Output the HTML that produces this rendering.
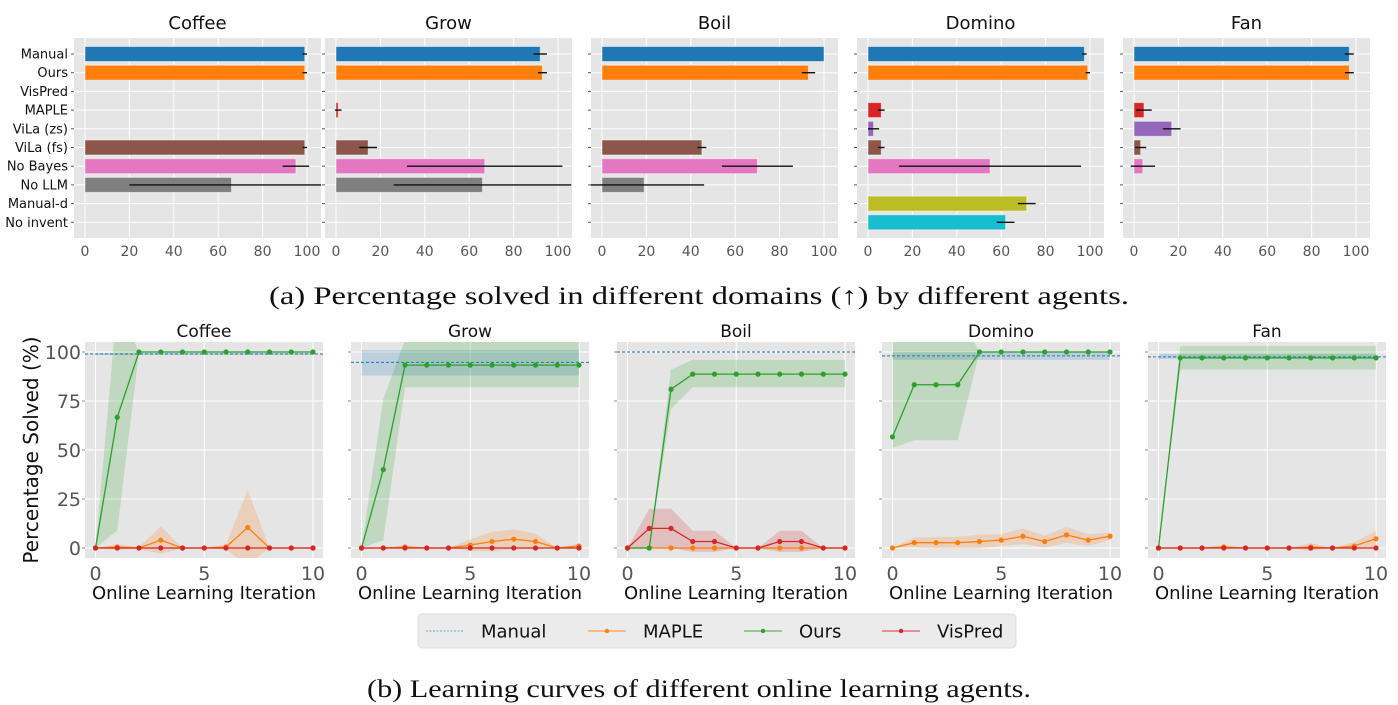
<!DOCTYPE html>
<html><head><meta charset="utf-8"><style>
html,body{margin:0;padding:0;background:#fff;}
svg{display:block;font-family:"DejaVu Sans","Liberation Sans",sans-serif;}
</style></head><body>
<svg id="chart" width="1398" height="705" viewBox="0 0 1398 705" xmlns="http://www.w3.org/2000/svg"></svg>
<script>
// ---------- Bar chart data (top row) ----------
const barDomains = ["Coffee","Grow","Boil","Domino","Fan"];
const barAgents = ["Manual","Ours","VisPred","MAPLE","ViLa (zs)","ViLa (fs)","No Bayes","No LLM","Manual-d","No invent"];
const barColors = ["#1f77b4","#ff7f0e","#2ca02c","#d62728","#9467bd","#8c564b","#e377c2","#7f7f7f","#bcbd22","#17becf"];
const barCoffee = [99,99,0,0,0,99,95,66,0,0];
const errCoffee = [1,1,0,0,0,1,6,46,0,0];
const barGrow = [92,93,0,1,0,14.5,67,66,0,0];
const errGrow = [3,2,0,1.5,0,4,35,40,0,0];
const barBoil = [100,93,0,0,0,45,70,19,0,0];
const errBoil = [0,3,0,0,0,2,16,27,0,0];
const barDomino = [97.5,99,0,6,2.5,6,55,0,71.5,62];
const errDomino = [1,1,0,1.5,2.5,1.5,41,0,4,4];
const barFan = [97,97,0,4.5,17,3,4,0,0,0];
const errFan = [2,2,0,3.5,4,2.5,5.5,0,0,0];
const barTicks = [0,20,40,60,80,100];

// ---------- Line chart data (bottom row) ----------
const iters = [0,1,2,3,4,5,6,7,8,9,10];
const lineTicksX = [0,5,10];
const lineTicksY = [0,25,50,75,100];
const coffeeOurs = [0,66.7,100,100,100,100,100,100,100,100,100];
const coffeeOursLo = [0,9,100,100,100,100,100,100,100,100,100];
const coffeeOursHi = [0,124,100,100,100,100,100,100,100,100,100];
const coffeeMaple = [0,0.5,0,4,0,0,0.5,10.5,0,0,0];
const coffeeMapleErr = [0,1.5,0.5,7,0,0,1.5,19,0,0,0];
const coffeeVis = [0,0,0,0,0,0,0,0,0,0,0];
const coffeeVisErr = [0,0,0,0,0,0,0,0,0,0,0];
const coffeeManual = [99,98.5,99.5];
const growOurs = [0,40,93.3,93.3,93.3,93.3,93.3,93.3,93.3,93.3,93.3];
const growOursLo = [0,4,82,82,82,82,82,82,82,82,82];
const growOursHi = [0,76,106,106,106,106,106,106,106,106,106];
const growMaple = [0,0,0.5,0,0,1.5,3.3,4.5,3.3,0,1];
const growMapleErr = [0,0,1,0,0,3,5,5,4,0,1.5];
const growVis = [0,0,0,0,0,0,0,0,0,0,0];
const growVisErr = [0,0,0,0,0,0,0,0,0,0,0];
const growManual = [94.7,88,101];
const boilOurs = [0,0,81,88.7,88.7,88.7,88.7,88.7,88.7,88.7,88.7];
const boilOursLo = [0,0,71,82,82,82,82,82,82,82,82];
const boilOursHi = [0,0,91,96,96,96,96,96,96,96,96];
const boilMaple = [0,0,0,0,0,0,0,0,0,0,0];
const boilMapleErr = [0,0,0,0,0,0,0,0,0,0,0];
const boilVis = [0,10,10,3.3,3.3,0,0,3.3,3.3,0,0];
const boilVisErr = [0,10,10,5.5,5.5,0,0,5.5,5.5,0,0];
const boilManual = [100,100,100];
const dominoOurs = [56.7,83.3,83.3,83.3,100,100,100,100,100,100,100];
const dominoOursLo = [51,55,55,55,100,100,100,100,100,100,100];
const dominoOursHi = [120,120,120,120,100,100,100,100,100,100,100];
const dominoMaple = [0,2.7,2.7,2.7,3.3,4,6,3.3,6.7,4,6];
const dominoMapleErr = [0,2.5,3,3,3.5,3,4,3,4,3,2];
const dominoVis = [];
const dominoVisErr = [];
const dominoManual = [98,96,100];
const fanOurs = [0,97,97,97,97,97,97,97,97,97,97];
const fanOursLo = [0,91,91,91,91,91,91,91,91,91,91];
const fanOursHi = [0,103,103,103,103,103,103,103,103,103,103];
const fanMaple = [0,0,0,0.5,0,0,0,0.5,0,1,4.7];
const fanMapleErr = [0,0,0,1,0,0,0,2,0,2,4];
const fanVis = [0,0,0,0,0,0,0,0,0,0,0];
const fanVisErr = [0,0,0,0,0,0,0,0,0,0,0];
const fanManual = [97.5,96.5,99];

const svg = document.getElementById('chart');
const NS = 'http://www.w3.org/2000/svg';
function mk(tag, attrs, parent){
  const e = document.createElementNS(NS, tag);
  for (const k in attrs) e.setAttribute(k, attrs[k]);
  (parent||svg).appendChild(e);
  return e;
}

// ================= TOP BAR CHARTS =================
const barSets = [[barCoffee,errCoffee],[barGrow,errGrow],[barBoil,errBoil],[barDomino,errDomino],[barFan,errFan]];
const barPanelLeft = [74, 325, 591, 857, 1123];
const barTop = 38, barBottom = 238;
barDomains.forEach((dom, d) => {
  const L = barPanelLeft[d], W = 247;
  const x0 = L + 11;
  const sx = v => x0 + v * 2.22;
  const clipX = v => Math.min(L + W, Math.max(L, sx(v)));
  const ry = i => 54 + i * 18.7;
  const g = mk('g', {});
  
  
  const bg = mk('rect', {x:L, y:barTop, width:W, height:barBottom-barTop, fill:'#e5e5e5'}, g);
  
  
  barTicks.forEach(t => {
    const gl = mk('line', {x1:sx(t), x2:sx(t), y1:barTop, y2:barBottom, stroke:'#fff', 'stroke-width':1}, g);
    
    
    const tl = mk('text', {x:sx(t), y:256, 'text-anchor':'middle', 'font-size':14, fill:'#555'}, g);
    tl.textContent = t;
    
    
  });
  barAgents.forEach((a, i) => {
    const gl = mk('line', {x1:L, x2:L+W, y1:ry(i), y2:ry(i), stroke:'#fff', 'stroke-width':1}, g);
    
    
    mk('line', {x1:L-3, x2:L, y1:ry(i), y2:ry(i), stroke:'#555', 'stroke-width':1}, g);
    if (d === 0) {
      const lab = mk('text', {x:L-6, y:ry(i)+4.5, 'text-anchor':'end', 'font-size':13, fill:'#111'}, g);
      lab.textContent = a;
      
      
    }
  });
  const vals = barSets[d][0], errs = barSets[d][1];
  vals.forEach((v, i) => {
    if (v > 0) {
      const b = mk('rect', {x:sx(0), y:ry(i)-7.5, width:sx(v)-sx(0), height:15, fill:barColors[i], stroke:'rgba(255,255,255,0.5)', 'stroke-width':1}, g);
      
      
    }
    if (errs[i] > 0) {
      const e = mk('line', {x1:clipX(v-errs[i]), x2:clipX(v+errs[i]), y1:ry(i), y2:ry(i), stroke:'#111', 'stroke-width':1.4}, g);
      
      
    }
  });
  const title = mk('text', {x:L+W/2, y:29, 'text-anchor':'middle', 'font-size':18, fill:'#111'}, g);
  title.textContent = dom;
  
  
});
const capA = mk('text', {x:699, y:304, 'text-anchor':'middle', 'font-size':25, 'font-family':'"Liberation Serif",serif', fill:'#111', textLength:860, lengthAdjust:'spacingAndGlyphs'});
capA.textContent = '(a) Percentage solved in different domains (\u2191) by different agents.';



// ================= BOTTOM LINE CHARTS =================
const lineSets = [
  [coffeeOurs,coffeeOursLo,coffeeOursHi,coffeeMaple,coffeeMapleErr,coffeeVis,coffeeVisErr,coffeeManual],
  [growOurs,growOursLo,growOursHi,growMaple,growMapleErr,growVis,growVisErr,growManual],
  [boilOurs,boilOursLo,boilOursHi,boilMaple,boilMapleErr,boilVis,boilVisErr,boilManual],
  [dominoOurs,dominoOursLo,dominoOursHi,dominoMaple,dominoMapleErr,dominoVis,dominoVisErr,dominoManual],
  [fanOurs,fanOursLo,fanOursHi,fanMaple,fanMapleErr,fanVis,fanVisErr,fanManual]
];
const lineLeft = [85, 351, 617, 882, 1148];
const lTop = 342, lBot = 558, lW = 238;
const defs = mk('defs', {});
barDomains.forEach((dom, d) => {
  const L = lineLeft[d];
  const sx = v => L + 10.5 + v * 21.75;
  const sy = v => 548 - v * 1.96;
  const cp = mk('clipPath', {id:'clip'+d}, defs);
  mk('rect', {x:L, y:lTop, width:lW, height:lBot-lTop}, cp);
  const g = mk('g', {});
  
  
  const bg = mk('rect', {x:L, y:lTop, width:lW, height:lBot-lTop, fill:'#e5e5e5'}, g);
  
  
  lineTicksX.forEach(t => {
    mk('line', {x1:sx(t), x2:sx(t), y1:lTop, y2:lBot, stroke:'#fff', 'stroke-width':1}, g);
    const tl = mk('text', {x:sx(t), y:580, 'text-anchor':'middle', 'font-size':19, fill:'#555'}, g);
    tl.textContent = t;
    
    
  });
  lineTicksY.forEach(t => {
    mk('line', {x1:L, x2:L+lW, y1:sy(t), y2:sy(t), stroke:'#fff', 'stroke-width':1}, g);
    mk('line', {x1:L-3, x2:L, y1:sy(t), y2:sy(t), stroke:'#888', 'stroke-width':1}, g);
    if (d === 0) {
      const tl = mk('text', {x:L-4, y:sy(t)+7, 'text-anchor':'end', 'font-size':19, fill:'#555'}, g);
      tl.textContent = t;
      
      
    }
  });
  const inner = mk('g', {'clip-path':'url(#clip'+d+')'}, g);
  const S = lineSets[d];
  const band = (lo, hi, color, name) => {
    if (!lo.length) return;
    let p = lo.map((v,i)=>sx(iters[i])+','+sy(v)).join(' ');
    p += ' ' + hi.map((v,i)=>sx(iters[i])+','+sy(v)).reverse().join(' ');
    const b = mk('polygon', {points:p, fill:color, 'fill-opacity':0.2}, inner);
    
    
  };
  const series = (vals, color, name) => {
    if (!vals.length) return;
    const pl = mk('polyline', {points:vals.map((v,i)=>sx(iters[i])+','+sy(v)).join(' '), fill:'none', stroke:color, 'stroke-width':1.3}, inner);
    
    
    vals.forEach((v,i) => {
      const c = mk('circle', {cx:sx(iters[i]), cy:sy(v), r:2.6, fill:color}, inner);
      
      
    });
  };
  const man = S[7];
  const mb = mk('rect', {x:sx(0), y:sy(man[2]), width:sx(10)-sx(0), height:Math.max(0, sy(man[1])-sy(man[2])), fill:'#1f77b4', 'fill-opacity':0.2}, inner);
  
  
  const ml = mk('line', {x1:L, x2:L+lW, y1:sy(man[0]), y2:sy(man[0]), stroke:'#1f77b4', 'stroke-width':1, 'stroke-dasharray':'3,2'}, inner);
  
  
  band(S[1], S[2], '#2ca02c', 'ours-band');
  band(S[3].map((v,i)=>v-S[4][i]), S[3].map((v,i)=>v+S[4][i]), '#ff7f0e', 'maple-band');
  band(S[5].map((v,i)=>Math.max(-2,v-S[6][i])), S[5].map((v,i)=>v+S[6][i]), '#d62728', 'vispred-band');
  series(S[3], '#ff7f0e', 'maple');
  series(S[0], '#2ca02c', 'ours');
  series(S[5], '#d62728', 'vispred');
  const title = mk('text', {x:L+lW/2, y:337, 'text-anchor':'middle', 'font-size':17, fill:'#111'}, g);
  title.textContent = dom;
  
  
  const xt = mk('text', {x:L+lW/2, y:599, 'text-anchor':'middle', 'font-size':18, fill:'#111'}, g);
  xt.textContent = 'Online Learning Iteration';
  
  
});
const yt = mk('text', {x:0, y:0, 'text-anchor':'middle', 'font-size':20, fill:'#111', transform:'translate(38,450) rotate(-90)'});
yt.textContent = 'Percentage Solved (%)';



// Legend
const lg = mk('g', {});


mk('rect', {x:418, y:614, width:598, height:34, rx:4, fill:'#ebebeb', stroke:'#ddd'}, lg);
const legNames = ['Manual','MAPLE','Ours','VisPred'];
const legColors = ['#1f77b4','#ff7f0e','#2ca02c','#d62728'];
const legX = [426, 588, 744, 882];
legNames.forEach((n,i) => {
  const e = mk('g', {}, lg);
  
  
  const x = legX[i];
  if (i === 0) {
    mk('line', {x1:x, x2:x+38, y1:631, y2:631, stroke:legColors[i], 'stroke-opacity':0.5, 'stroke-width':1.2, 'stroke-dasharray':'2,1.5'}, e);
  } else {
    mk('line', {x1:x, x2:x+38, y1:631, y2:631, stroke:legColors[i], 'stroke-opacity':0.6, 'stroke-width':1.5}, e);
    mk('circle', {cx:x+19, cy:631, r:2.2, fill:legColors[i]}, e);
  }
  const t = mk('text', {x:x+55, y:637.5, 'font-size':18, fill:'#111'}, e);
  t.textContent = n;
});

const capB = mk('text', {x:699, y:697, 'text-anchor':'middle', 'font-size':25, 'font-family':'"Liberation Serif",serif', fill:'#111', textLength:664, lengthAdjust:'spacingAndGlyphs'});
capB.textContent = '(b) Learning curves of different online learning agents.';


</script>
</body></html>
